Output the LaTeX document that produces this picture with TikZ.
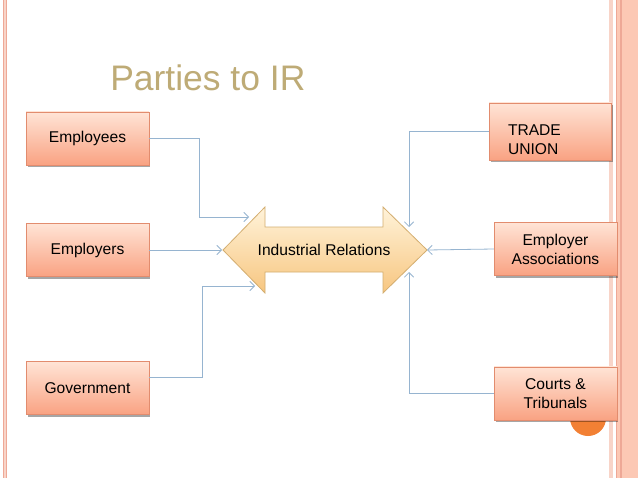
\documentclass[tikz,border=0pt]{standalone}
\usepackage{fontspec}
\setmainfont{Liberation Sans}
\usetikzlibrary{positioning,shadows,arrows.meta,calc}

\definecolor{boxtop}{RGB}{255,228,214}
\definecolor{boxbot}{RGB}{249,162,130}
\definecolor{boxline}{RGB}{226,140,110}
\definecolor{linkblue}{RGB}{150,180,208}
\definecolor{hubtop}{RGB}{255,243,218}
\definecolor{hubbot}{RGB}{247,198,128}
\definecolor{hubline}{RGB}{212,174,112}
\definecolor{titletan}{RGB}{190,171,118}
\definecolor{edgepink}{RGB}{248,212,200}
\definecolor{edgedark}{RGB}{238,168,150}
\definecolor{edgesalmon}{RGB}{252,200,180}
\definecolor{dotorange}{RGB}{242,128,52}

\begin{document}
\begin{tikzpicture}[
    x=0.75pt, y=-0.75pt,
    party/.style={rectangle, draw=boxline, top color=boxtop, bottom color=boxbot,
      minimum width=92pt, minimum height=40pt, inner sep=2pt, align=center,
      font=\fontsize{11.7}{14.2}\selectfont,
      drop shadow={shadow xshift=1.2pt, shadow yshift=-1.5pt, fill=black, opacity=0.35}},
    link/.style={draw=linkblue, line width=0.6pt, -{Straight Barb[length=3.5pt,width=7pt]}}
]
\useasboundingbox[fill=white] (0,0) rectangle (638,478);

% page edges
\fill[edgepink] (3,0) rectangle (7,478);
\draw[edgedark, line width=0.5pt] (3.4,0) -- (3.4,478) (6.6,0) -- (6.6,478);
\fill[edgepink] (609,0) rectangle (613,478);
\fill[edgesalmon] (616,0) rectangle (638,478);
\draw[edgedark, line width=0.8pt] (616.5,0) -- (616.5,478) (621,0) -- (621,478);

% title
\node (title) at (110,90) [anchor=base west, inner sep=0pt, text=titletan,
  font=\fontsize{26.6}{30}\selectfont] {Parties to IR};

% orange dot behind the last box
\fill[dotorange] (588,418) circle (18);

% left parties
\node (emp) at (87.5,138.5) [party] {Employees};
\node (empr) at (87.5,250) [party] {Employers};
\node (govt) at (87.5,388) [party] {Government};

% right parties
\node (union) at (550,131.5) [party, minimum width=91.5pt, minimum height=43pt, inner ysep=0pt, inner xsep=14.25pt] {%
  \parbox[c][43pt][t]{63pt}{\vspace*{16.5pt}TRADE\\UNION}};
\node (assoc) at (555.5,249) [party] {Employer\\Associations};
\node (courts) at (555.5,393.5) [party] {Courts \&\\Tribunals};

% Industrial Relations
\draw[hubline, line width=0.6pt, top color=hubtop, bottom color=hubbot]
  (223,250) -- (265,207) -- (265,227) -- (383,227) -- (383,207) -- (427,250)
  -- (383,293) -- (383,272) -- (265,272) -- (265,293) -- cycle;
\node (ir) at (324,250) [font=\fontsize{11.7}{14.2}\selectfont] {Industrial Relations};

\coordinate (irNW) at (249,217);
\coordinate (irW) at (222,250);
\coordinate (irSW) at (255,286);
\coordinate (irNE) at (409,227);
\coordinate (irE) at (427,250);
\coordinate (irSE) at (409,272);

% connectors
\draw[link] (emp.east) -- ++(50,0) |- (irNW);
\draw[link] (empr.east) -- (irW);
\draw[link] ([yshift=8pt]govt.east) -- ++(53,0) |- (irSW);
\draw[link] (union.west) -| (irNE);
\draw[link] (assoc.west) -- (irE);
\draw[link] (courts.west) -| (irSE);

\end{tikzpicture}
\end{document}
